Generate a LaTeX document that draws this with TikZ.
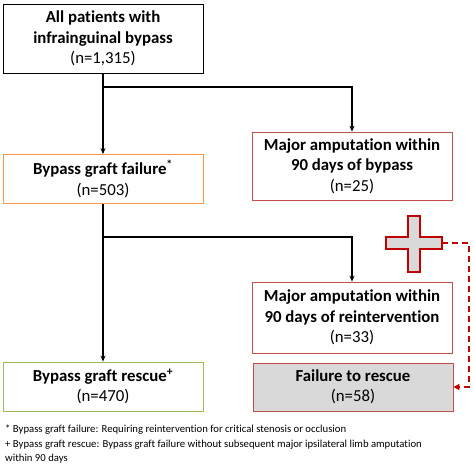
\documentclass[tikz,border=0pt]{standalone}
\usepackage{fontspec}
\setmainfont[Ligatures=NoCommon]{Carlito}
\usetikzlibrary{arrows.meta}
\definecolor{boxorange}{RGB}{247,150,70}
\definecolor{boxred}{RGB}{192,80,77}
\definecolor{boxgreen}{RGB}{155,187,89}
\definecolor{boxgray}{RGB}{217,217,217}
\definecolor{darkred}{RGB}{192,0,0}
\begin{document}
\begin{tikzpicture}[x=1pt,y=-1pt,
  box/.style={draw, line width=0.8pt, minimum width=200pt, align=center, font=\fontsize{16.8}{20.5}\selectfont, inner sep=0pt},
  arr/.style={line width=1.6pt, -{Stealth[length=6pt,width=5pt]}},
  sup/.style={},
  foot/.style={anchor=west, font=\fontsize{10.7}{12}\selectfont, inner sep=0pt}]
\useasboundingbox (0,0) rectangle (474,466);
\node[box, draw=black, minimum height=69pt] (all) at (103,38.5) {\textbf{All patients with}\\\textbf{infrainguinal bypass}\\(n=1,315)};
\node[box, draw=boxorange, minimum height=49pt] (fail) at (103,179) {\textbf{Bypass graft failure}\textsuperscript{\textbf{*}}\\(n=503)};
\node[box, draw=boxred, minimum height=68pt] (amp1) at (352,166) {\textbf{Major amputation within}\\\textbf{90 days of bypass}\\(n=25)};
\node[box, draw=boxred, minimum height=71pt] (amp2) at (352,317.5) {\textbf{Major amputation within}\\\textbf{90 days of reintervention}\\(n=33)};
\node[box, draw=boxgreen, minimum height=49pt] (rescue) at (103,386.5) {\textbf{Bypass graft rescue}\textsuperscript{\textbf{+}}\\(n=470)};
\node[box, draw=boxred, fill=boxgray, minimum height=48pt] (ftr) at (353,387) {\textbf{Failure to rescue}\\(n=58)};
\coordinate (j1) at (103,87);
\coordinate (j2) at (103,237);
\draw[arr] (all.south) -- (fail.north);
\draw[arr] (j1) -| (amp1.north);
\draw[arr] (fail.south) -- (rescue.north);
\draw[arr] (j2) -| (amp2.north);
% cross
\draw[darkred, line width=1.6pt, fill=boxgray]
  (408,216) -- (420,216) -- (420,237) -- (442,237) -- (442,249) -- (420,249) -- (420,272) -- (408,272) -- (408,249) -- (386,249) -- (386,237) -- (408,237) -- cycle;
\coordinate (crossr) at (442,243);
\coordinate (dc) at (469,243);
\draw[darkred, line width=1.6pt, dash pattern=on 6pt off 4pt, -{Triangle[length=6pt,width=6pt]}] (crossr) -- (dc) |- (ftr.east);
\node[foot] (f1) at (5,430) {* Bypass graft failure: Requiring reintervention for critical stenosis or occlusion};
\node[foot] (f2) at (5,445) {+ Bypass graft rescue: Bypass graft failure without subsequent major ipsilateral limb amputation};
\node[foot] (f3) at (5,459) {within 90 days};
\end{tikzpicture}
\end{document}
